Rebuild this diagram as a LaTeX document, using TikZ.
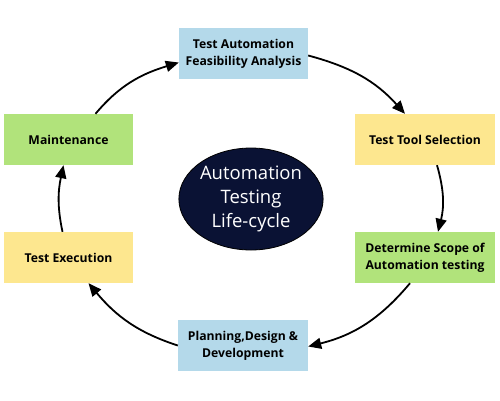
\documentclass[tikz,border=0pt]{standalone}
\usepackage{fontspec}
\setmainfont{Open Sans}
\usetikzlibrary{arrows.meta,shapes.geometric}
\definecolor{boxblue}{HTML}{B4D9EA}
\definecolor{boxyellow}{HTML}{FDE78F}
\definecolor{boxgreen}{HTML}{B1E37B}
\definecolor{navy}{HTML}{0A1234}

\begin{document}
\begin{tikzpicture}[
  x=1pt, y=1pt,
  box/.style={align=center, inner sep=0pt, minimum height=51pt, font=\bfseries\fontsize{12.2}{17}\selectfont},
  bluebox/.style={box, fill=boxblue},
  yellowbox/.style={box, fill=boxyellow},
  greenbox/.style={box, fill=boxgreen},
  hub/.style={ellipse, draw=black, line width=0.8pt, fill=navy, text=white, align=center, inner sep=0pt,
    minimum width=142pt, minimum height=102pt, font=\fontsize{18.5}{24}\selectfont},
  arr/.style={-{Triangle[length=13pt,width=11pt]}, line width=1.8pt}
]
  \useasboundingbox (0,0) rectangle (500,-400);

  \node[hub] (hub) at (251,-199) {Automation\\Testing\\Life-cycle};
  \node[bluebox, minimum width=129pt] (feas) at (243.5,-53.5) {Test Automation\\Feasibility Analysis};
  \node[yellowbox, minimum width=140pt] (tool) at (425,-139.5) {Test Tool Selection};
  \node[greenbox, minimum width=140pt] (scope) at (425,-257.5) {Determine Scope of\\Automation testing};
  \node[bluebox, minimum width=130pt] (plan) at (243,-345.5) {Planning,Design \&\\Development};
  \node[yellowbox, minimum width=129pt] (exec) at (68.5,-257.5) {Test Execution};
  \node[greenbox, minimum width=129pt] (maint) at (68.5,-139.5) {Maintenance};

  \draw[arr] ([yshift=-2pt]feas.east) to[out=-15,in=132] ([xshift=-20pt]tool.north);
  \draw[arr] ([xshift=12pt]tool.south) to[out=-74,in=76] ([xshift=13pt]scope.north);
  \draw[arr] ([xshift=-15pt]scope.south) to[out=-130,in=14] ([yshift=-1pt]plan.east);
  \draw[arr] (plan.west) to[out=162,in=-50] ([xshift=20pt]exec.south);
  \draw[arr] ([xshift=-6pt]exec.north) to[out=102,in=-102] ([xshift=-5pt]maint.south);
  \draw[arr] ([xshift=27pt]maint.north) to[out=50,in=197] ([yshift=-9pt]feas.west);
\end{tikzpicture}
\end{document}
